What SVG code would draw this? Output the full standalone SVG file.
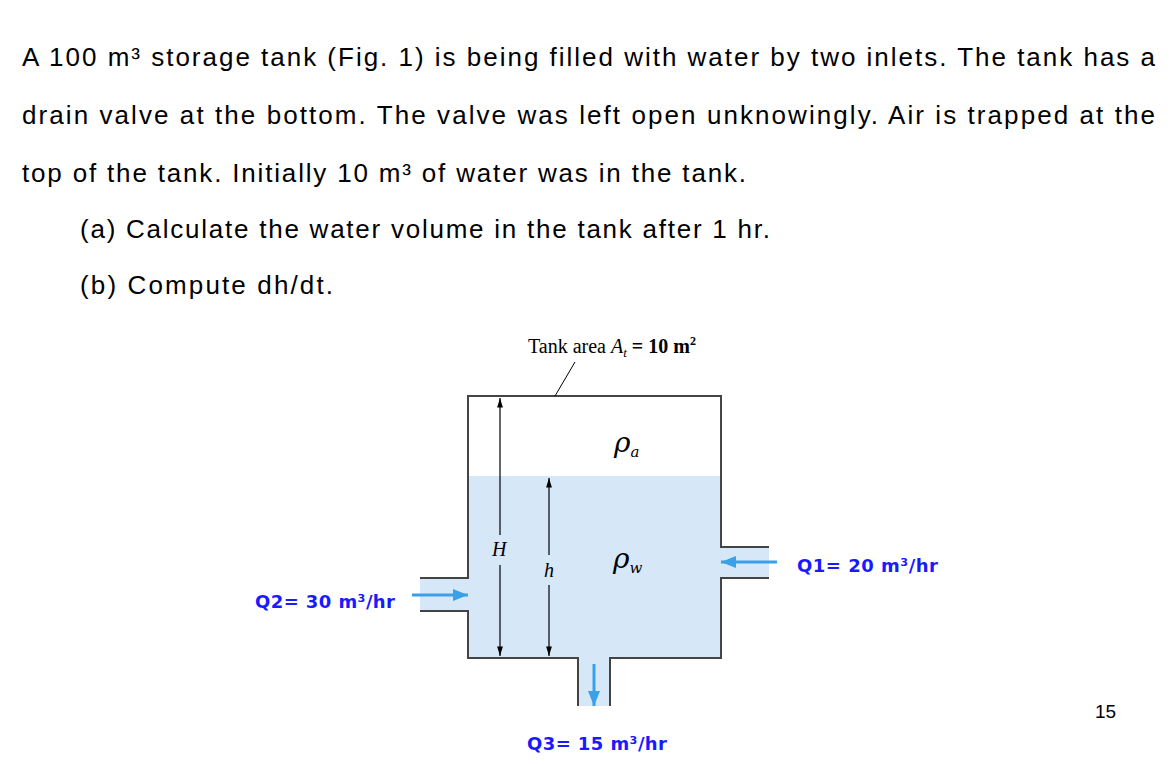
<svg xmlns="http://www.w3.org/2000/svg" width="1174" height="764" viewBox="0 0 1174 764">
<style>
.t{font-family:"Liberation Sans",sans-serif;font-size:26px;fill:#000}
.q{font-family:"DejaVu Sans",sans-serif;font-size:18px;font-weight:bold;fill:#1a1aff}
.w{stroke:#444;stroke-width:2;fill:none}
.s{font-family:"Liberation Serif",serif;font-size:20px}
.blue{stroke:#3aa0e8;stroke-width:3}
</style>
<defs>
<marker id="ab" viewBox="0 0 10 10" refX="10" refY="5" markerWidth="8" markerHeight="8" orient="auto-start-reverse"><path d="M0,2 L10,5 L0,8z" fill="#000"/></marker>
<marker id="bl" viewBox="0 0 10 10" refX="10" refY="5" markerWidth="5" markerHeight="5" orient="auto"><path d="M0,1 L10,5 L0,9z" fill="#3aa0e8"/></marker>
</defs>
<rect width="1174" height="764" fill="#fff"/>
<text class="t" x="22" y="66" textLength="1133">A 100 m³ storage tank (Fig. 1) is being filled with water by two inlets. The tank has a</text>
<text class="t" x="22" y="124" textLength="1133">drain valve at the bottom. The valve was left open unknowingly. Air is trapped at the</text>
<text class="t" x="22" y="182" textLength="724">top of the tank. Initially 10 m³ of water was in the tank.</text>
<text class="t" x="80" y="238" textLength="690">(a) Calculate the water volume in the tank after 1 hr.</text>
<text class="t" x="80" y="294" textLength="253">(b) Compute dh/dt.</text>
<g id="tank">
<path d="M468,476 H721 V547 H769 V578 H721 V658 H610 V706 H578 V658 H468 V611 H420 V578 H468 Z" fill="#d6e8f7"/>
<path class="w" d="M769,547 H721 V396 H468 V578 H420 M420,611 H468 V658 H578 V706 M610,706 V658 H721 V578 H769"/>
</g>
<g id="connectors">
<line x1="555" y1="396" x2="575" y2="362" stroke="#000" stroke-width="1"/>
<line x1="500" y1="398" x2="500" y2="535" stroke="#000" stroke-width="1.2" marker-start="url(#ab)"/>
<line x1="500" y1="565" x2="500" y2="656" stroke="#000" stroke-width="1.2" marker-end="url(#ab)"/>
<line x1="549" y1="478" x2="549" y2="555" stroke="#000" stroke-width="1.2" marker-start="url(#ab)"/>
<line x1="549" y1="585" x2="549" y2="656" stroke="#000" stroke-width="1.2" marker-end="url(#ab)"/>
<line class="blue" x1="412" y1="595" x2="468" y2="595" marker-end="url(#bl)"/>
<line class="blue" x1="777" y1="562" x2="721" y2="562" marker-end="url(#bl)"/>
<line class="blue" x1="594" y1="664" x2="594" y2="706" marker-end="url(#bl)"/>
</g>
<g id="labels">
<text class="s" x="528" y="353">Tank area <tspan font-style="italic">A</tspan><tspan font-style="italic" font-size="13" dy="4">t</tspan><tspan dy="-4" font-weight="bold">  = 10 m</tspan><tspan font-size="12" dy="-8" font-weight="bold">2</tspan></text>
<text x="614" y="452" font-family="DejaVu Serif,serif" font-style="italic" font-size="28">ρ<tspan font-size="15" dy="5">a</tspan></text>
<text x="613" y="568" font-family="DejaVu Serif,serif" font-style="italic" font-size="28">ρ<tspan font-size="15" dy="5">w</tspan></text>
<text class="s" x="492" y="556" font-style="italic" font-size="20">H</text>
<text class="s" x="544" y="577" font-style="italic" font-size="20">h</text>
<text class="q" x="797" y="572" textLength="141">Q1= 20 m³/hr</text>
<text class="q" x="255" y="608" textLength="140">Q2= 30 m³/hr</text>
<text class="q" x="527" y="750" textLength="140">Q3= 15 m³/hr</text>
<text x="1095" y="718" font-family="Liberation Sans,sans-serif" font-size="19">15</text>
</g>
</svg>
